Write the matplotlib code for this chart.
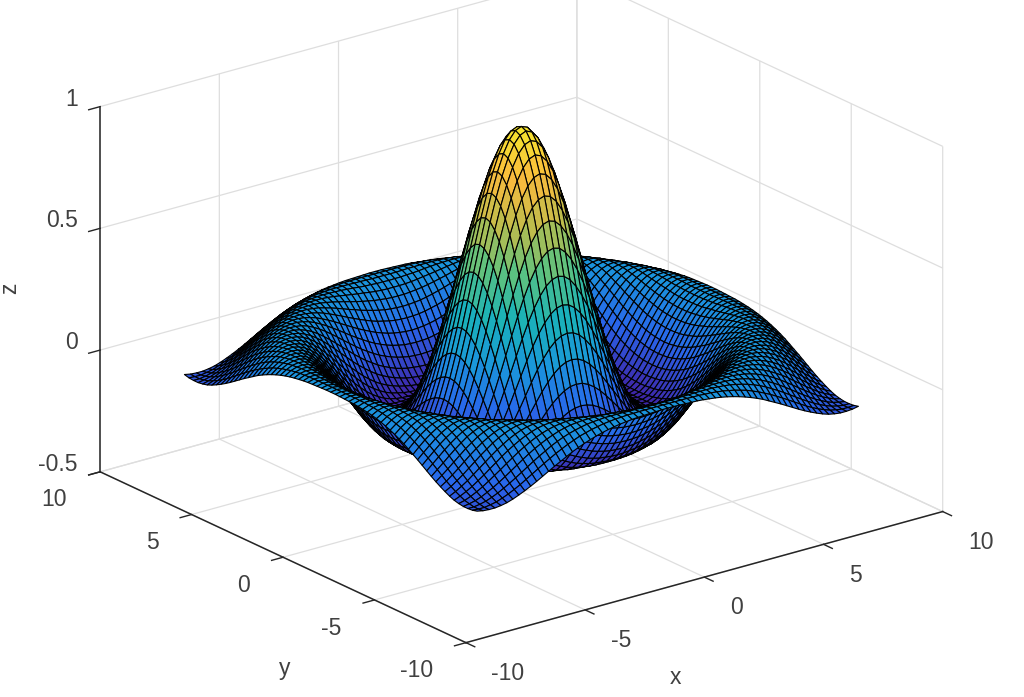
import matplotlib
matplotlib.use('Agg')
import matplotlib.pyplot as plt
import numpy as np
from matplotlib.colors import LinearSegmentedColormap

plt.rcParams['font.family'] = ['Liberation Sans', 'DejaVu Sans']
plt.rcParams['axes.unicode_minus'] = False

# Grid of the surface, one octant of heights estimated by hand (the rest mirrors it)
grid = [-8, -7.75, -7.5, -7.25, -7, -6.75, -6.5, -6.25, -6, -5.75, -5.5, -5.25, -5, -4.75, -4.5, -4.25,
        -4, -3.75, -3.5, -3.25, -3, -2.75, -2.5, -2.25, -2, -1.75, -1.5, -1.25, -1, -0.75, -0.5, -0.25,
        0, 0.25, 0.5, 0.75, 1, 1.25, 1.5, 1.75, 2, 2.25, 2.5, 2.75, 3, 3.25, 3.5, 3.75,
        4, 4.25, 4.5, 4.75, 5, 5.25, 5.5, 5.75, 6, 6.25, 6.5, 6.75, 7, 7.25, 7.5, 7.75, 8]
octant = [
    [1.000],
    [.990, .979],
    [.959, .949, .919],
    [.909, .899, .870, .823],
    [.841, .832, .804, .759, .698],
    [.759, .750, .724, .681, .624, .555],
    [.665, .657, .632, .593, .540, .475, .402],
    [.562, .555, .532, .496, .448, .389, .322, .250],
    [.455, .448, .428, .395, .351, .299, .239, .175, .109],
    [.346, .340, .322, .293, .255, .209, .157, .101, .044, -.013],
    [.239, .234, .219, .194, .161, .122, .077, .029, -.019, -.065, -.109],
    [.139, .135, .122, .101, .073, .040, .003, -.036, -.075, -.112, -.146, -.175],
    [.047, .044, .033, .016, -.006, -.033, -.063, -.094, -.124, -.152, -.177, -.197, -.210],
    [-.033, -.036, -.044, -.058, -.075, -.096, -.118, -.141, -.164, -.183, -.200, -.211, -.217, -.216],
    [-.100, -.102, -.109, -.118, -.131, -.146, -.162, -.178, -.193, -.204, -.213, -.217, -.216, -.209, -.196],
    [-.152, -.154, -.158, -.165, -.174, -.183, -.193, -.203, -.210, -.215, -.217, -.214, -.207, -.195, -.178, -.157],
    [-.189, -.190, -.193, -.197, -.202, -.207, -.212, -.215, -.216, -.216, -.212, -.204, -.192, -.175, -.155, -.131, -.103],
    [-.210, -.211, -.212, -.214, -.215, -.217, -.217, -.216, -.213, -.207, -.198, -.185, -.169, -.150, -.127, -.102, -.074, -.045],
    [-.217, -.217, -.217, -.216, -.216, -.214, -.211, -.205, -.199, -.189, -.176, -.160, -.142, -.120, -.096, -.070, -.043, -.015, .013],
    [-.210, -.210, -.209, -.207, -.204, -.199, -.193, -.185, -.175, -.163, -.148, -.130, -.110, -.087, -.063, -.038, -.012, .014, .039, .063],
    [-.192, -.191, -.189, -.186, -.182, -.175, -.167, -.157, -.145, -.131, -.114, -.095, -.075, -.053, -.029, -.005, .019, .042, .064, .083, .100],
    [-.164, -.163, -.160, -.157, -.151, -.144, -.134, -.123, -.110, -.094, -.078, -.059, -.039, -.017, .004, .026, .047, .067, .085, .101, .113, .122],
    [-.128, -.127, -.125, -.120, -.114, -.106, -.096, -.085, -.071, -.056, -.040, -.022, -.003, .016, .036, .055, .073, .089, .103, .115, .123, .127, .128],
    [-.088, -.087, -.085, -.080, -.074, -.066, -.056, -.045, -.032, -.017, -.002, .014, .031, .048, .064, .080, .094, .107, .117, .124, .128, .128, .125, .118],
    [-.047, -.046, -.043, -.039, -.033, -.025, -.016, -.005, .007, .019, .033, .047, .061, .075, .088, .100, .111, .119, .125, .128, .128, .124, .118, .108, .095],
    [-.005, -.004, -.002, .002, .008, .014, .022, .032, .042, .053, .064, .076, .087, .098, .108, .116, .122, .126, .128, .127, .124, .117, .107, .095, .080, .062],
    [.033, .034, .036, .039, .044, .050, .057, .064, .073, .081, .090, .099, .107, .114, .121, .125, .128, .128, .126, .122, .115, .105, .093, .078, .062, .044, .025],
    [.067, .067, .069, .072, .075, .080, .085, .091, .097, .104, .110, .116, .121, .125, .127, .128, .127, .124, .119, .111, .101, .089, .075, .060, .043, .024, .006, -.013],
    [.094, .094, .095, .097, .100, .104, .107, .111, .115, .119, .123, .126, .128, .128, .128, .125, .121, .115, .107, .097, .085, .071, .056, .039, .022, .004, -.013, -.030, -.046],
    [.113, .114, .114, .116, .117, .119, .122, .124, .126, .127, .128, .128, .127, .125, .122, .117, .110, .101, .091, .079, .066, .051, .035, .018, .001, -.016, -.032, -.047, -.060, -.072],
    [.125, .125, .125, .126, .127, .127, .128, .128, .128, .128, .126, .124, .121, .116, .110, .103, .094, .084, .072, .058, .044, .029, .013, -.003, -.019, -.034, -.048, -.061, -.072, -.081, -.087],
    [.128, .128, .128, .128, .128, .127, .127, .125, .124, .121, .118, .113, .108, .101, .094, .084, .074, .062, .050, .036, .022, .007, -.008, -.023, -.038, -.051, -.063, -.073, -.082, -.087, -.091, -.091],
    [.124, .124, .123, .122, .121, .120, .118, .115, .112, .108, .103, .097, .090, .082, .073, .063, .052, .039, .026, .013, -.001, -.015, -.029, -.042, -.054, -.065, -.075, -.083, -.088, -.091, -.091, -.089, -.084],
]
xy_ticks = [-10, -5, 0, 5, 10]
xy_ticklabels = ['-10', '-5', '0', '5', '10']
z_ticks = [-0.5, 0, 0.5, 1]
z_ticklabels = ['-0.5', '0', '0.5', '1']

parula = LinearSegmentedColormap.from_list('parula', [
    (0.242, 0.150, 0.660), (0.160, 0.400, 0.920), (0.100, 0.590, 0.860),
    (0.100, 0.700, 0.720), (0.360, 0.760, 0.500), (0.740, 0.740, 0.300),
    (0.980, 0.730, 0.240), (0.960, 0.900, 0.180)])

X, Y = np.meshgrid(grid, grid)
idx = np.abs(np.arange(len(grid)) - len(grid) // 2)
Z = np.array([[octant[max(a, b)][min(a, b)] for a in idx] for b in idx])

fig = plt.figure(figsize=(10.24, 6.97), dpi=100)
ax = fig.add_axes([0, 30 / 697, 1, 1], projection='3d', proj_type='ortho')
ax.set_box_aspect((1, 1, 0.651), zoom=1.303)
ax.view_init(elev=21, azim=-127.5)

ax.plot_surface(X, Y, Z, cmap=parula, vmin=Z.min(), vmax=Z.max(), edgecolor='black',
                linewidth=0.8, rcount=len(grid), ccount=len(grid), shade=False)

ax.set_xlim(-10, 10)
ax.set_ylim(-10, 10)
ax.set_zlim(-0.5, 1)
ax.set_xticks(xy_ticks, xy_ticklabels)
ax.set_yticks(xy_ticks, xy_ticklabels)
ax.set_zticks(z_ticks, z_ticklabels)
ax.zaxis.set_ticks_position('upper')

for axis in (ax.xaxis, ax.yaxis, ax.zaxis):
    axis.set_pane_color((1, 1, 1, 0))
    axis.pane.set_edgecolor('#d9d9d9')
    axis.line.set_color('#262626')
    axis.line.set_linewidth(1.1)
    axis._axinfo['grid']['color'] = '#dedede'
    axis._axinfo['grid']['linewidth'] = 0.9
    # matplotlib draws these ticks on the inner side with the outward factor, so swap them
    axis._axinfo['tick']['inward_factor'] = 0.3
    axis._axinfo['tick']['outward_factor'] = 0.0
    axis._axinfo['tick']['linewidth'] = {True: 1.0, False: 0.5}
ax.tick_params(labelsize=16.5, labelcolor='#404040', color='#262626', pad=10.2)
ax.tick_params(axis='z', pad=-1)
for t in ax.get_xticklabels():
    t.set_ha('left')
    t.set_va('baseline')
for t in ax.get_yticklabels():
    t.set_ha('right')
    t.set_va('baseline')
for t in ax.get_zticklabels():
    t.set_ha('right')
    t.set_va('baseline')

fig.text(285 / 1024, 1 - 668 / 697, 'y', fontsize=16.5, color='#404040', ha='center', va='center')
fig.text(675 / 1024, 1 - 677 / 697, 'x', fontsize=16.5, color='#404040', ha='center', va='center')
fig.text(10 / 1024, 1 - 288 / 697, 'z', fontsize=16.5, color='#404040', ha='center', va='center', rotation=90)

fig.savefig('out.png', dpi=100)
